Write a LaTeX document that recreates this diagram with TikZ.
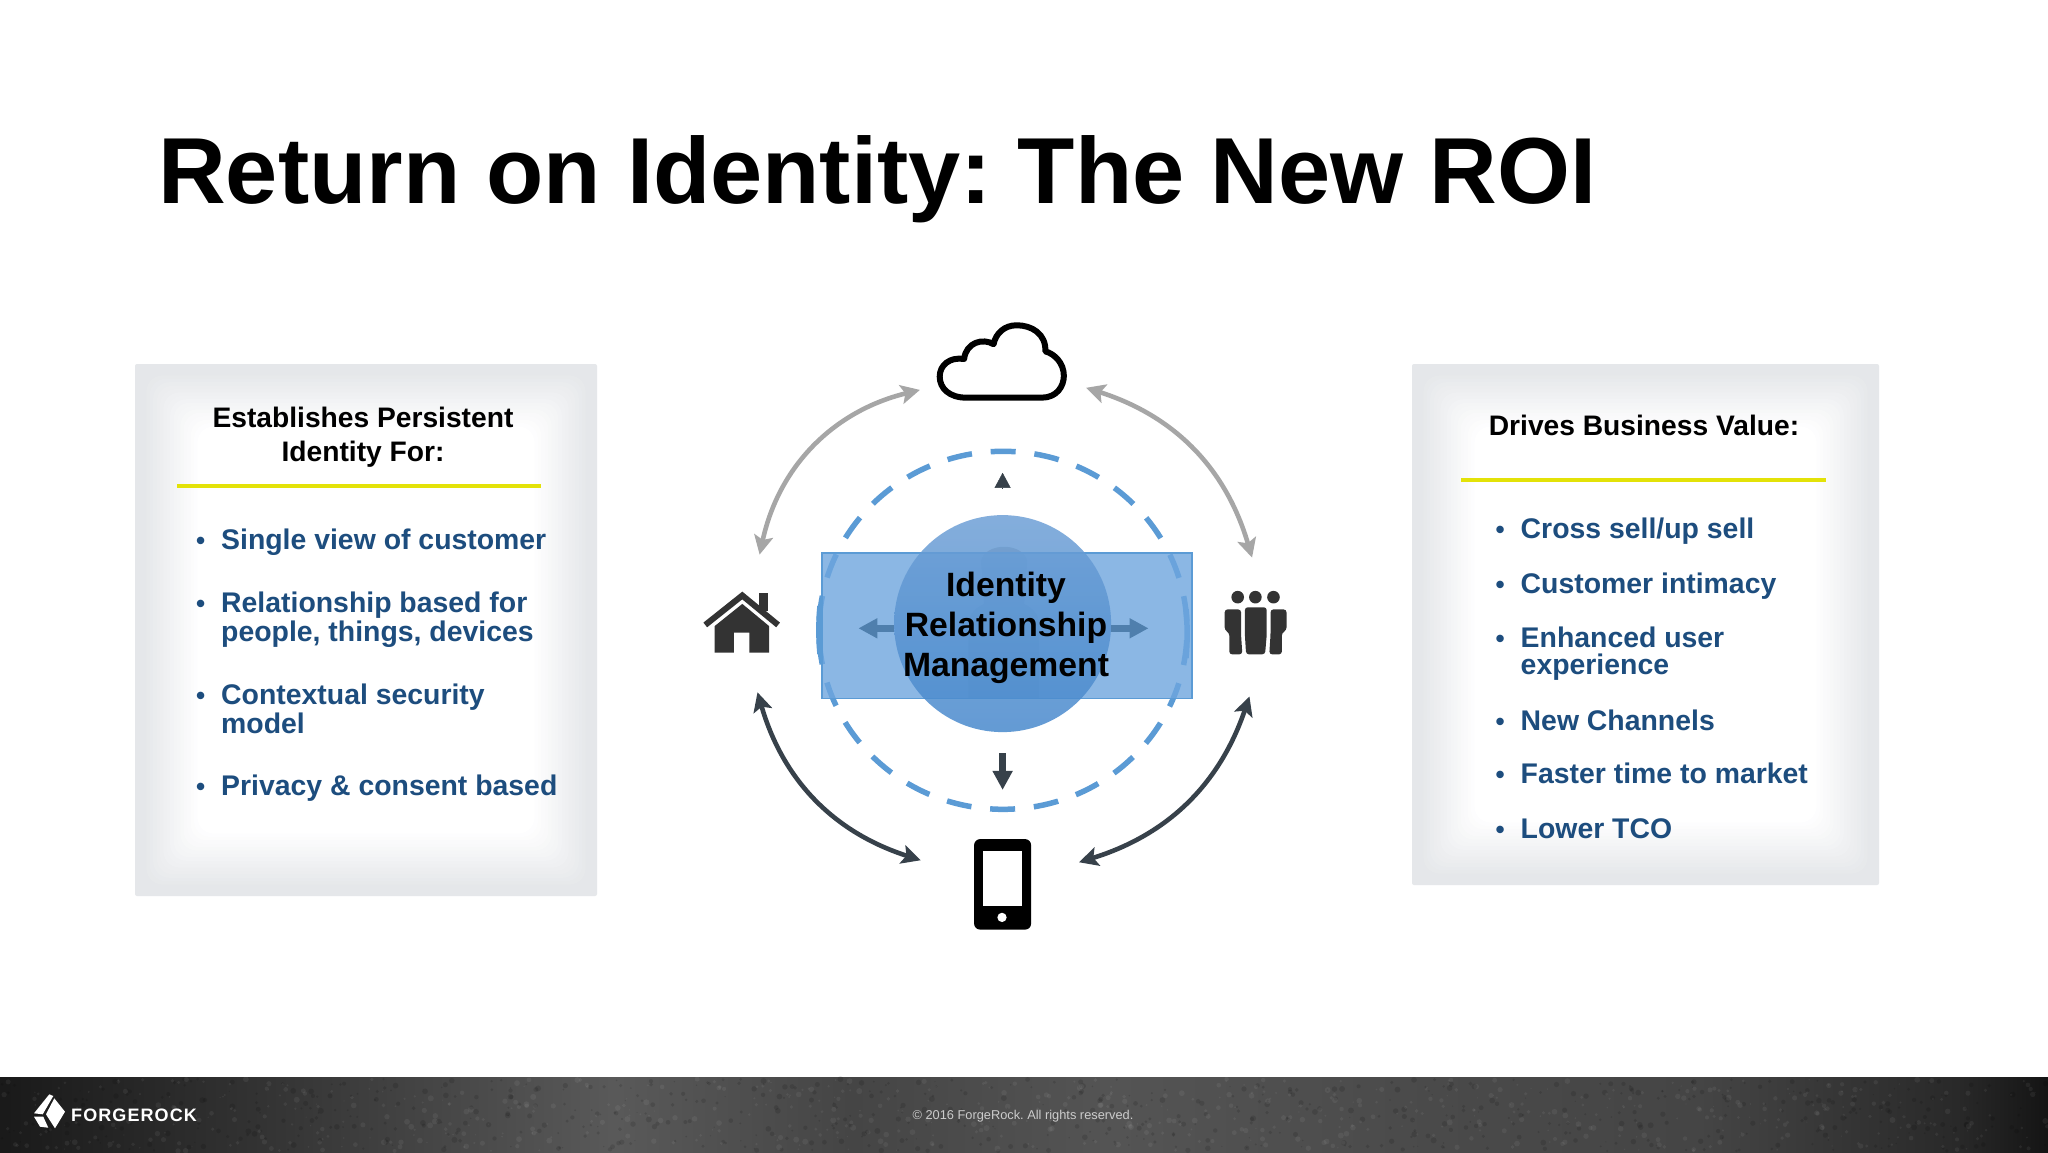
\documentclass[tikz,border=0pt]{standalone}
\usepackage{fontspec}
\setmainfont{Liberation Sans}
\usepackage{tikz}
\usetikzlibrary{shapes,arrows.meta}
\usetikzlibrary{positioning}
\usetikzlibrary{calc}

\definecolor{panelgray}{HTML}{E5E7EA}
\definecolor{navy}{HTML}{1D4D7E}
\definecolor{lime}{HTML}{E3E208}
\definecolor{ringblue}{HTML}{5B9BD5}
\definecolor{slate}{HTML}{37414A}
\definecolor{icongray}{HTML}{333333}
\definecolor{bandblue}{HTML}{6EA6DE}
\definecolor{hubtop}{HTML}{6D9FD6}
\definecolor{hubbot}{HTML}{4688CC}
\definecolor{spokeblue}{HTML}{4F7FAD}

\pgfdeclarehorizontalshading{rockbar}{100bp}{
 color(0bp)=(black!90); color(25bp)=(black!90); color(31.4bp)=(black!80);
 color(40bp)=(black!65); color(45.8bp)=(black!73); color(52.1bp)=(black!67);
 color(60bp)=(black!71); color(66.5bp)=(black!73); color(72.8bp)=(black!84);
 color(75bp)=(black!92); color(100bp)=(black!92)}

% soft grey card: left, top, right, bottom
\newcommand\softpanel[4]{
 \fill [panelgray, rounded corners=2pt] (#1,#2) rectangle (#3,#4);
 \foreach \i in {1,...,16} {
  \pgfmathsetmacro\mixpct{100-6.25*\i}
  \pgfmathsetmacro\inset{8+3.4*\i}
  \fill [panelgray!\mixpct!white, rounded corners=16pt]
   ({#1+\inset},{#2+\inset}) rectangle ({#3-\inset},{#4-\inset});
 }
}
\newcommand\dotmark{\llap{\fontsize{26}{26}\selectfont •\hspace{16pt}}}

\begin{document}
\frenchspacing
\begin{tikzpicture}[x=1pt, y=-1pt]
 \tikzstyle{head} = [inner sep=0, align=center, font=\fontsize{28.2}{33.5}\selectfont\bfseries];
 \tikzstyle{itemL} = [anchor=base west, inner sep=0, align=left, text=navy, font=\fontsize{28.4}{29.5}\selectfont\bfseries];
 \tikzstyle{itemR} = [itemL, font=\fontsize{28.4}{27}\selectfont\bfseries];
 \tikzstyle{icon} = [inner sep=0, outer sep=0];
 \tikzstyle{C} = [line width=4.6pt, >={Stealth[length=19pt,width=19pt,inset=4pt]}];

 \useasboundingbox (0,0) rectangle (2048,1152);
 \fill [white] (0,0) rectangle (2048,1152);

 \node (title) [anchor=base west, inner sep=0, font=\fontsize{93.8}{100}\selectfont\bfseries] at (158,203) {Return on Identity: The New ROI};

 % left card
 \softpanel{135}{364}{597}{896}
 \node (leftHead) [head, anchor=base] at (363,461) {Establishes Persistent\\Identity For:};
 \draw [lime, line width=4pt] (177,486) -- (541,486);
 \node (single) [itemL] at (221,549.5) {\dotmark Single view of customer};
 \node (relation) [itemL] at (221,641.5) {\dotmark Relationship based for\\people, things, devices};
 \node (context) [itemL] at (221,733.5) {\dotmark Contextual security\\model};
 \node (privacy) [itemL] at (221,795.5) {\dotmark Privacy \& consent based};

 % right card
 \softpanel{1412}{364}{1879}{885}
 \node (rightHead) [head, anchor=base] at (1644,435) {Drives Business Value:};
 \draw [lime, line width=4pt] (1461,480) -- (1826,480);
 \node (cross) [itemR] at (1520.5,538) {\dotmark Cross sell/up sell};
 \node (intimacy) [itemR] at (1520.5,593.5) {\dotmark Customer intimacy};
 \node (enhanced) [itemR] at (1520.5,674) {\dotmark Enhanced user\\experience};
 \node (channels) [itemR] at (1520.5,730) {\dotmark New Channels};
 \node (faster) [itemR] at (1520.5,783.5) {\dotmark Faster time to market};
 \node (lower) [itemR] at (1520.5,838.5) {\dotmark Lower TCO};

 % figure behind the hub, in crop units
 \begin{scope}[shift={(680,300)}, x=.4209pt, y=-.4209pt]
  \fill [black!30] (685,945) -- (685,770) .. controls (685,745) and (705,730) .. (722,722)
   -- (715,620) .. controls (725,575) and (815,575) .. (825,620) -- (818,722)
   .. controls (835,730) and (853,745) .. (853,770) -- (853,945) -- cycle;
 \end{scope}

 \tikzstyle{ringline} = [ringblue, line width=5.5pt];
 \draw [ringline, dash pattern=on 25pt off 18.85pt, dash phase=34.45pt] (1003,630.3) ellipse [x radius=184pt, y radius=179pt];
 \draw [ringline] (820,606) .. controls (818.5,620) and (818.5,640) .. (820,654);
 \draw [ringline] (1186,609) .. controls (1187.5,625) and (1187.5,642) .. (1186,658);

 \node (origin) [icon] at (1002.6,623.6) {};
 \node (band) [draw=ringblue, fill=bandblue, fill opacity=.8, line width=1.5pt, minimum width=370pt, minimum height=145.5pt, inner sep=0] at (1007,625.8) {};
 \node (irm) [circle, minimum size=217pt, inner sep=0, top color=hubtop, bottom color=hubbot, fill opacity=.84] at (origin) {};
 \node (irmLabel) [anchor=base, inner sep=0, align=center, font=\fontsize{33.7}{40}\selectfont\bfseries] at (1006,676.7) {Identity\\Relationship\\Management};

 % the four outer things
 \node (cloud) [icon, above=222.6pt of origin, minimum width=130pt, minimum height=78pt] {};
 \node (phone) [icon, below=215pt of origin, minimum width=57pt, minimum height=90.5pt, fill=black, rounded corners=6pt] {};
 \node (house) [icon, left=222.4pt of origin, minimum width=77pt, minimum height=61pt] {};
 \node (people) [icon, right=221.6pt of origin, minimum width=62.7pt, minimum height=64.4pt] {};
 \node (screen) [icon, fill=white, minimum width=38.7pt, minimum height=54.7pt] at (1002.4,878.7) {};
 \node (button) [icon, circle, fill=white, minimum size=9.3pt] at (1002,917.4) {};

 \begin{scope}[shift={(680,300)}, x=.4209pt, y=-.4209pt]
  \draw [black, line width=6pt, line join=round] (680,232) -- (860,232)
   .. controls (895,232) and (912,205) .. (912,180)
   .. controls (912,150) and (890,128) .. (868,122)
   .. controls (870,80) and (835,60) .. (800,60)
   .. controls (770,60) and (750,80) .. (745,105)
   .. controls (720,90) and (680,100) .. (675,140)
   .. controls (640,135) and (617,155) .. (617,182)
   .. controls (617,210) and (640,232) .. (680,232) -- cycle;
  \draw [icongray, line width=6pt, line join=miter] (60,772) -- (148,702) -- (233,772);
  \fill [icongray] (82,775) -- (148,722) -- (212,775) -- (212,838) -- (165,838) -- (165,790) -- (128,790) -- (128,838) -- (82,838) -- cycle;
  \fill [icongray] (188,697) rectangle (210,740);
  \fill [icongray] (1325,706) circle [radius=15] (1367,706) circle [radius=15] (1410,706) circle [radius=15];
  \fill [icongray, rounded corners=3pt] (1342,730) -- (1394,730) -- (1394,795) -- (1390,842) -- (1345,842) -- (1342,795) -- cycle;
  \fill [icongray, rounded corners=3pt] (1294,735) -- (1333,735) -- (1333,795) -- (1336,842) -- (1305,842) -- (1305,790) -- (1294,785) -- cycle;
  \fill [icongray, rounded corners=3pt] (1403,735) -- (1441,735) -- (1441,785) -- (1430,790) -- (1430,842) -- (1400,842) -- (1403,795) -- cycle;
 \end{scope}

 \draw [<->, C, color=black!35] ([shift={(18.4,-38.5)}]house.north) to [bend left=32] ([shift={(-17.7,-10.6)}]cloud.south west);
 \draw [<->, C, color=black!35] ([shift={(18.5,-12.7)}]cloud.south east) to [bend left=28] ([shift={(-4,-33.8)}]people.north);
 \draw [<->, C, color=slate] ([shift={(16.3,38.2)}]house.south) to [bend right=28] ([shift={(-53.4,-24.1)}]phone.west);
 \draw [<->, C, color=slate] ([shift={(47.9,-22.1)}]phone.east) to [bend right=27] ([shift={(-6.6,40.7)}]people.south);

 \tikzstyle{spoke} = [line width=6.5pt, -{Triangle[length=19pt,width=19pt]}];
 \draw [color=slate, line width=.4pt, -{Triangle[length=15pt,width=16pt]}, shorten <=27.1pt, shorten >=72.3pt] (irm.north) -- (cloud.south);
 \draw [spoke, color=slate, shorten <=20.8pt, shorten >=49.2pt] (irm.south) -- (phone.north);
 \draw [spoke, color=spokeblue] ([shift={(0,4.7)}]irm.west) -- ([shift={(78.7,4.7)}]house.east);
 \draw [spoke, color=spokeblue] ([shift={(0,4.7)}]irm.east) -- ([shift={(-76.2,4.7)}]people.west);

 % footer
 \shade [shading=rockbar] (0,1077) rectangle (2048,1152);
 \pgfmathsetseed{7}
 \foreach \s in {1,...,700} {
  \fill [black, opacity=.12] ({rnd*2048},{1079+rnd*72}) circle [radius=.6+rnd*2.4];
  \fill [white, opacity=.06] ({rnd*2048},{1079+rnd*72}) circle [radius=.6+rnd*2.4];
 }
 \fill [white] (34,1113.3) -- (49.3,1094.3) -- (53.3,1096) -- (42.7,1114.3) -- cycle;
 \fill [white] (54.3,1098.3) -- (65,1111.7) -- (55,1128.3) -- (46,1114.3) -- cycle;
 \fill [white] (34,1116.7) -- (43.3,1116.7) -- (48.3,1127.7) -- (40,1126.7) -- cycle;
 \node (brand) [anchor=base west, inner sep=0, text=white, font=\fontsize{18}{20}\selectfont\bfseries\addfontfeature{LetterSpace=6}] at (71,1121) {FORGEROCK};
 \node (copy) [inner sep=0, text=black!20, font=\fontsize{12.8}{15}\selectfont] at (1023,1116) {© 2016 ForgeRock. All rights reserved.};
\end{tikzpicture}
\end{document}
